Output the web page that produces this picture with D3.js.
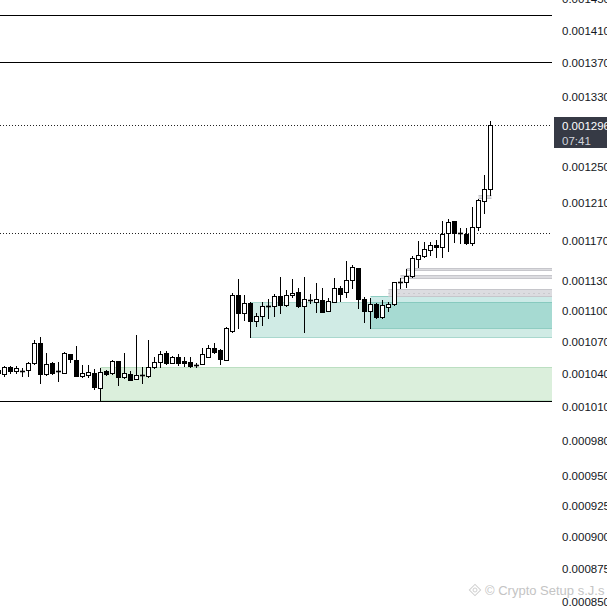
<!DOCTYPE html>
<html><head><meta charset="utf-8">
<script src="https://cdn.jsdelivr.net/npm/d3@7"></script>
<style>html,body{margin:0;padding:0;background:#fff;overflow:hidden}</style>
</head><body>
<svg id="chart" width="607" height="607"></svg>
<script>
// ---- data (prices) ----
const open = [0.0010409,0.0010400,0.0010465,0.0010428,0.0010432,0.0010437,0.0010502,0.0010690,0.0010400,0.0010502,
0.0010428,0.0010409,0.0010586,0.0010530,0.0010382,0.0010391,0.0010409,0.0010271,0.0010428,0.0010409,
0.0010520,0.0010373,0.0010400,0.0010354,0.0010391,0.0010382,0.0010465,0.0010511,0.0010596,0.0010502,
0.0010558,0.0010520,0.0010511,0.0010483,0.0010493,0.0010558,0.0010643,0.0010624,0.0010530,0.0010804,
0.0011155,0.0010977,0.0011076,0.0010900,0.0010948,0.0011046,0.0011046,0.0011145,0.0011056,0.0011155,
0.0011184,0.0011046,0.0011105,0.0011085,0.0011105,0.0010997,0.0011085,0.0011224,0.0011184,0.0011304,
0.0011424,0.0011115,0.0010997,0.0011066,0.0010938,0.0011036,0.0011066,0.0011284,0.0011284,0.0011344,
0.0011516,0.0011547,0.0011608,0.0011660,0.0011639,0.0011785,0.0011910,0.0011785,0.0011774,0.0011681,
0.0011847,0.0012123,0.0012253];
const high = [0.0010446,0.0010474,0.0010474,0.0010474,0.0010455,0.0010511,0.0010719,0.0010747,0.0010596,0.0010511,
0.0010511,0.0010605,0.0010586,0.0010662,0.0010483,0.0010483,0.0010446,0.0010455,0.0010437,0.0010530,
0.0010520,0.0010596,0.0010428,0.0010766,0.0010465,0.0010719,0.0010558,0.0010614,0.0010614,0.0010567,
0.0010586,0.0010558,0.0010558,0.0010502,0.0010643,0.0010671,0.0010690,0.0010633,0.0010843,0.0011175,
0.0011314,0.0011155,0.0011085,0.0010977,0.0011085,0.0011115,0.0011165,0.0011334,0.0011204,0.0011314,
0.0011224,0.0011334,0.0011165,0.0011274,0.0011224,0.0011125,0.0011324,0.0011244,0.0011496,0.0011455,
0.0011424,0.0011135,0.0011125,0.0011076,0.0011105,0.0011085,0.0011284,0.0011324,0.0011414,0.0011547,
0.0011702,0.0011691,0.0011691,0.0011712,0.0011910,0.0011931,0.0011910,0.0011837,0.0011837,0.0012059,
0.0012145,0.0012406,0.0013014];
const low = [0.0010400,0.0010382,0.0010409,0.0010409,0.0010382,0.0010382,0.0010493,0.0010317,0.0010391,0.0010400,
0.0010336,0.0010409,0.0010511,0.0010382,0.0010373,0.0010373,0.0010262,0.0010154,0.0010395,0.0010400,
0.0010299,0.0010364,0.0010345,0.0010354,0.0010317,0.0010373,0.0010455,0.0010465,0.0010493,0.0010502,
0.0010483,0.0010474,0.0010465,0.0010465,0.0010493,0.0010558,0.0010596,0.0010493,0.0010530,0.0010795,
0.0010833,0.0010910,0.0010747,0.0010852,0.0010862,0.0010929,0.0010948,0.0010977,0.0011046,0.0011135,
0.0011036,0.0010795,0.0011076,0.0010987,0.0010987,0.0010997,0.0011085,0.0011095,0.0011135,0.0011224,
0.0011026,0.0010891,0.0010833,0.0010929,0.0010929,0.0010997,0.0011056,0.0011224,0.0011234,0.0011334,
0.0011434,0.0011536,0.0011557,0.0011536,0.0011536,0.0011598,0.0011691,0.0011681,0.0011670,0.0011660,
0.0011816,0.0011995,0.0012188];
const close = [0.0010437,0.0010465,0.0010428,0.0010455,0.0010428,0.0010502,0.0010690,0.0010400,0.0010493,0.0010409,
0.0010418,0.0010596,0.0010539,0.0010382,0.0010409,0.0010418,0.0010280,0.0010418,0.0010400,0.0010520,
0.0010373,0.0010409,0.0010345,0.0010391,0.0010386,0.0010465,0.0010511,0.0010586,0.0010502,0.0010558,
0.0010502,0.0010502,0.0010474,0.0010478,0.0010586,0.0010643,0.0010605,0.0010539,0.0010833,0.0011155,
0.0010977,0.0011076,0.0010900,0.0010948,0.0011046,0.0011041,0.0011145,0.0011056,0.0011155,0.0011175,
0.0011046,0.0011115,0.0011102,0.0011115,0.0010987,0.0011095,0.0011224,0.0011165,0.0011304,0.0011434,
0.0011115,0.0010997,0.0011066,0.0010938,0.0011056,0.0011066,0.0011284,0.0011269,0.0011344,0.0011526,
0.0011557,0.0011618,0.0011660,0.0011639,0.0011774,0.0011900,0.0011785,0.0011782,0.0011681,0.0011847,
0.0012134,0.0012253,0.0012968];

const tickValues = [0.001450,0.001410,0.001370,0.001330,0.001250,0.001210,0.001170,0.001130,0.001100,
  0.001070,0.001040,0.001010,0.000980,0.000950,0.000925,0.000900,0.000875,0.000850];

const solidLevels = [0.0014297, 0.0013713, 0.0010154];
const dottedLevels = [0.0012968, 0.0011785];

// zones: start candle index, end candle index (null = to the price scale), top price, bottom price, kind
const zoneStart  = [17, 42, 62, 65, 67, 68, 80];
const zoneEnd    = [null, null, null, null, null, null, 82];
const zoneTop    = [0.0010465, 0.0011085, 0.0011145, 0.0011214, 0.0011354, 0.0011424, 0.0012188];
const zoneBottom = [0.0010163, 0.0010747, 0.0010833, 0.0011145, 0.0011324, 0.0011404, 0.0012156];
const zoneKind   = ["green", "tealA", "tealB", "gray", "gray", "gray", "gray"];

const lastPrice = 0.001296;
const countdown = "07:41";
const watermark = "© Crypto Setup s.J.s";

// ---- layout ----
const W = 607, H = 607, plotRight = 552;
const svg = d3.select("#chart");
const x = d3.scaleLinear().domain([0, 82]).range([-2, 490]);
const y = d3.scaleLog().domain([0.0008459, 0.0014488]).range([H, 0]);

const styles = {
  green: {fill: "#dbefdc", stroke: "#bcdfc2"},
  tealA: {fill: "#d0ebe5", stroke: "#a9d8ce"},
  tealB: {fill: "rgba(0,150,136,0.2)", stroke: "#8fcdc2"},
  gray:  {fill: "#dcdce0", stroke: "#c6c6cb"}
};

const zones = zoneStart.map((s, i) => ({s, e: zoneEnd[i], t: zoneTop[i], b: zoneBottom[i], k: zoneKind[i]}));
const gz = svg.append("g");
zones.forEach(z => {
  const x0 = Math.round(x(z.s)) + 0.5;
  const x1 = z.e === null ? plotRight : Math.round(x(z.e)) + 1.5;
  const y0 = Math.round(y(z.t)) + 0.5, y1 = Math.round(y(z.b)) + 0.5;
  const st = styles[z.k];
  gz.append("rect").attr("x", x0).attr("y", y0).attr("width", x1 - x0).attr("height", Math.max(1, y1 - y0))
    .attr("fill", st.fill).attr("stroke", "none");
  gz.append("line").attr("x1", x0).attr("x2", x1).attr("y1", y0).attr("y2", y0).attr("stroke", st.stroke);
  gz.append("line").attr("x1", x0).attr("x2", x1).attr("y1", y1).attr("y2", y1).attr("stroke", st.stroke);
  if (z.k === "gray" && y1 - y0 > 4) {
    const ym = Math.round((y0 + y1) / 2) + 0.5;
    gz.append("line").attr("x1", x0).attr("x2", x1).attr("y1", ym).attr("y2", ym)
      .attr("stroke", "#b8b8bd").attr("stroke-dasharray", "1,4");
  }
});

// level lines
svg.append("g").selectAll("line").data(solidLevels).join("line")
  .attr("x1", 0).attr("x2", plotRight)
  .attr("y1", d => Math.round(y(d)) + 0.5).attr("y2", d => Math.round(y(d)) + 0.5)
  .attr("stroke", "#000").attr("stroke-width", 1);
svg.append("g").selectAll("line").data(dottedLevels).join("line")
  .attr("x1", 0).attr("x2", plotRight)
  .attr("y1", d => Math.round(y(d)) + 0.5).attr("y2", d => Math.round(y(d)) + 0.5)
  .attr("stroke", "#222").attr("stroke-width", 1).attr("stroke-dasharray", "1,2");

// candles
const candles = open.map((o, i) => ({i, o, h: high[i], l: low[i], c: close[i]}));
const gc = svg.append("g");
candles.forEach(d => {
  const cx = Math.round(x(d.i));
  const up = d.c >= d.o;
  gc.append("line").attr("x1", cx + 0.5).attr("x2", cx + 0.5)
    .attr("y1", Math.round(y(d.h))).attr("y2", Math.round(y(d.l)) + 1)
    .attr("stroke", "#000").attr("stroke-width", 1);
  const yt = Math.round(y(Math.max(d.o, d.c))), yb = Math.round(y(Math.min(d.o, d.c)));
  if (yb - yt < 1.5) {
    gc.append("line").attr("x1", cx - 2).attr("x2", cx + 3)
      .attr("y1", yt + 0.5).attr("y2", yt + 0.5).attr("stroke", "#000").attr("stroke-width", up ? 1 : 1.6);
  } else {
    gc.append("rect").attr("x", cx - 1.5).attr("y", yt + 0.5).attr("width", 4).attr("height", yb - yt)
      .attr("fill", up ? "#fff" : "#000").attr("stroke", "#000").attr("stroke-width", 1);
  }
});

// watermark
const wm = svg.append("g").attr("fill", "none").attr("stroke", "#cfcfcf");
wm.append("rect").attr("x", 471).attr("y", 586).attr("width", 8).attr("height", 8)
  .attr("transform", "rotate(45 475 590)");
wm.append("circle").attr("cx", 475).attr("cy", 590).attr("r", 2);
svg.append("text").attr("x", 485).attr("y", 595).text(watermark)
  .attr("font-family", "Liberation Sans, Arial, sans-serif").attr("font-size", 13).attr("fill", "#c4c4c4");

// axis
const axis = d3.axisRight(y).tickValues(tickValues).tickFormat(d3.format(".6f")).tickSize(0).tickPadding(9);
const ga = svg.append("g").attr("transform", `translate(${plotRight + 1},0)`).call(axis);
ga.select(".domain").remove();
ga.selectAll("text").attr("font-family", "Liberation Sans, Arial, sans-serif").attr("font-size", 11.5).attr("fill", "#131722");

// last price label
const gl = svg.append("g");
gl.append("rect").attr("x", 554).attr("y", 117).attr("width", 53).attr("height", 31).attr("fill", "#363a45");
gl.append("text").attr("x", 562).attr("y", y(lastPrice)).attr("dy", "0.35em").text(d3.format(".6f")(lastPrice))
  .attr("font-family", "Liberation Sans, Arial, sans-serif").attr("font-size", 11.5).attr("fill", "#ffffff");
gl.append("text").attr("x", 562).attr("y", y(lastPrice) + 15).attr("dy", "0.35em").text(countdown)
  .attr("font-family", "Liberation Sans, Arial, sans-serif").attr("font-size", 11.5).attr("fill", "#d1d4dc");
</script>
</body></html>
